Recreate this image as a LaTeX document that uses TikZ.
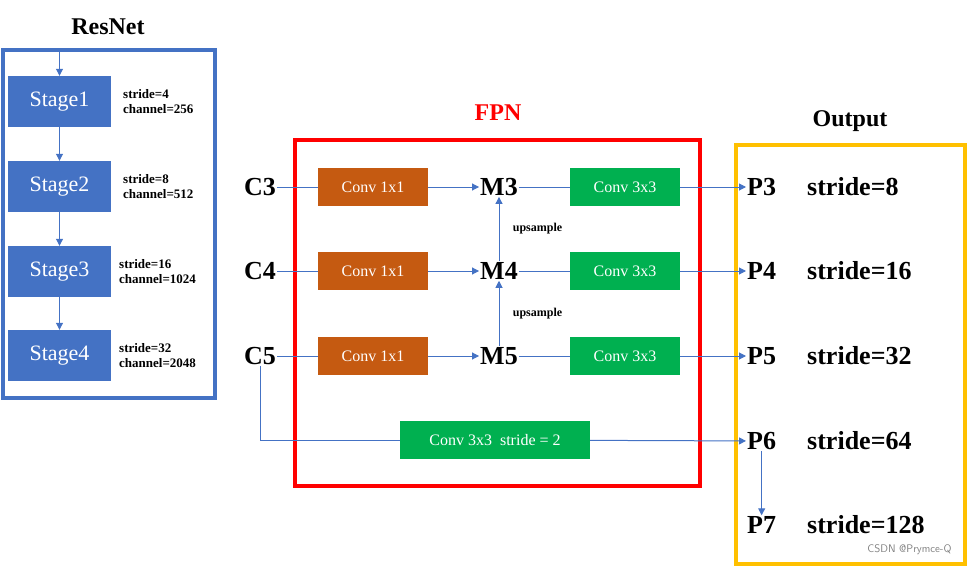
\documentclass[tikz,border=0pt]{standalone}
\usepackage{fontspec}
\setmainfont{Liberation Serif}
\usepackage{tikz}
\usetikzlibrary{arrows.meta}
\definecolor{resblue}{HTML}{4472C4}
\definecolor{convorange}{HTML}{C55A11}
\definecolor{convgreen}{HTML}{00B050}
\definecolor{fpnred}{HTML}{FF0000}
\definecolor{outyellow}{HTML}{FFC000}
\begin{document}
\begin{tikzpicture}[x=1pt,y=-1pt,>={Triangle[length=7pt,width=7pt]},
    stage/.style={fill=resblue,text=white,minimum width=103pt,minimum height=51pt,inner sep=0pt,font=\fontsize{22}{22}\selectfont},
    conva/.style={fill=convorange,text=white,minimum width=110pt,minimum height=38pt,inner sep=0pt,font=\fontsize{16}{16}\selectfont},
    convb/.style={fill=convgreen,text=white,minimum width=110pt,minimum height=38pt,inner sep=0pt,font=\fontsize{16}{16}\selectfont},
    big/.style={font=\fontsize{26}{26}\selectfont\bfseries,inner sep=1pt},
    info/.style={font=\fontsize{13}{15}\selectfont\bfseries,align=left,anchor=west,inner sep=0pt},
    link/.style={draw=resblue,line width=1pt}]
    \useasboundingbox (0,0) rectangle (969,567);
    % frames
    \draw[resblue,line width=4pt] (3,50) rectangle (215,398);
    \draw[fpnred,line width=4pt] (295,140) rectangle (700,486);
    \draw[outyellow,line width=4pt] (736,145) rectangle (965,564);
    \node[font=\fontsize{24}{24}\selectfont\bfseries] at (108,27) {ResNet};
    \node[font=\fontsize{24}{24}\selectfont\bfseries,text=fpnred] at (498,113) {FPN};
    \node[font=\fontsize{24}{24}\selectfont\bfseries] at (850,121) {Output};

    % backbone
    \coordinate (in) at (59.5,50);
    \node[stage] (s1) at (59.5,101.5) {Stage1};
    \node[stage] (s2) at (59.5,186.5) {Stage2};
    \node[stage] (s3) at (59.5,271.5) {Stage3};
    \node[stage] (s4) at (59.5,355.5) {Stage4};
    \draw[link,->] (in) -- (s1);
    \draw[link,->] (s1) -- (s2);
    \draw[link,->] (s2) -- (s3);
    \draw[link,->] (s3) -- (s4);
    \node[info] at (123,102) {stride=4\\channel=256};
    \node[info] at (123,187) {stride=8\\channel=512};
    \node[info] at (119,272) {stride=16\\channel=1024};
    \node[info] at (119,356) {stride=32\\channel=2048};

    % pyramid
    \foreach \i/\y in {3/187,4/271,5/356}{
      \node[big] (c\i) at (260,\y) {C\i};
      \node[conva] (a\i) at (373,\y) {Conv 1x1};
      \node[big] (m\i) at (499,\y) {M\i};
      \node[convb] (b\i) at (625,\y) {Conv 3x3};
      \node[big,anchor=west] (p\i) at (746,\y) {P\i};
      \draw[link] (c\i) -- (a\i);
      \draw[link,->] (a\i) -- (m\i);
      \draw[link] (m\i) -- (b\i);
      \draw[link,->] (b\i) -- (p\i);
    }
    \node[big,anchor=west] (p6) at (746,441) {P6};
    \node[big,anchor=west] (p7) at (746,525) {P7};
    \node[convb,minimum width=190pt] (b6) at (495,440) {Conv 3x3\ \ stride = 2};
    \draw[link] (c5) -- (c5|-b6) -- (b6);
    \draw[link,->] (b6) -- (p6);
    \draw[link,->] (p6) -- (p7);
    \draw[link,->] (m5) -- (m4) node[midway,right=10pt,font=\fontsize{12}{12}\selectfont\bfseries] {upsample};
    \draw[link,->] (m4) -- (m3) node[midway,right=10pt,font=\fontsize{12}{12}\selectfont\bfseries] {upsample};

    % strides
    \foreach \y/\s in {187/8,271/16,356/32,441/64,525/128}
      \node[big,anchor=west] at (806,\y) {stride=\s};
    \node[text=gray,font=\fontsize{11}{11}\selectfont\sffamily,anchor=east] at (955,550) {CSDN @Prymce-Q};
\end{tikzpicture}
\end{document}
